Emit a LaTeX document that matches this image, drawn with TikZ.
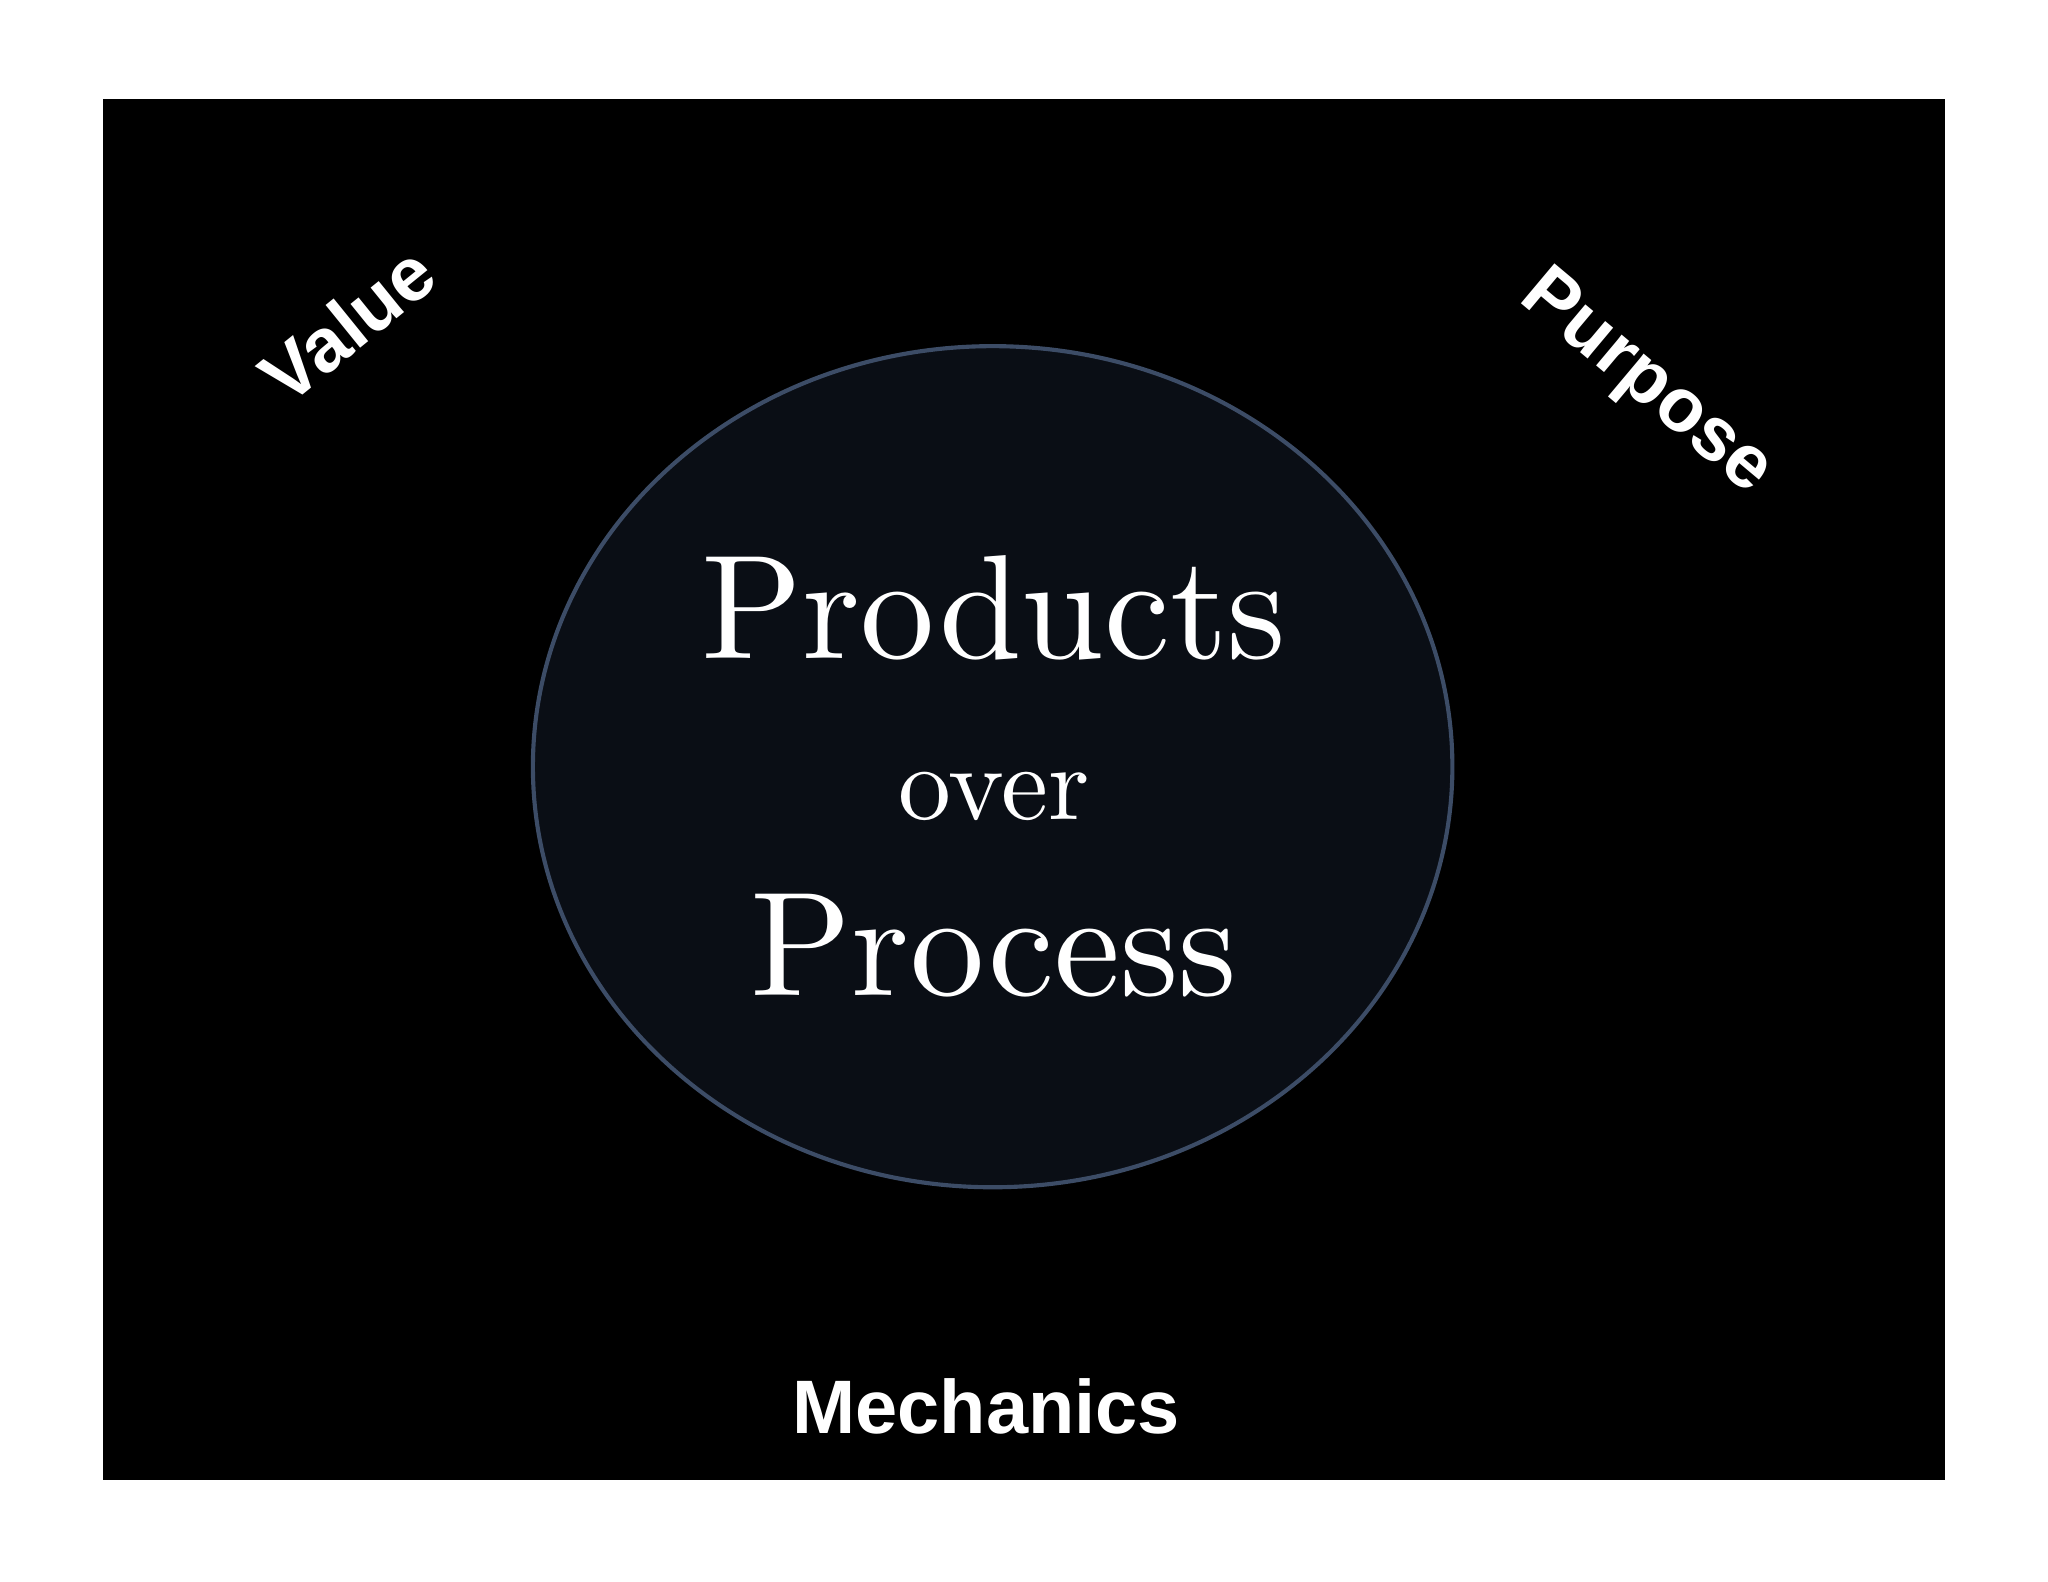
\documentclass[tikz,border=0pt]{standalone}
\usepackage{fontspec}
\newfontfamily\lab{Liberation Sans}
\newfontfamily\lmten{lmroman10-regular.otf}
\definecolor{disc}{HTML}{0A0E15}
\definecolor{rim}{HTML}{3C4C66}
\begin{document}
\begin{tikzpicture}[x=0.01cm,y=-0.01cm,
  labelstyle/.style={text=white,font=\lab\bfseries\fontsize{16.5pt}{18pt}\selectfont,inner sep=0pt},
  bigword/.style={text=white,font=\lmten\fontsize{32.3pt}{36pt}\selectfont,inner sep=0pt}]
\useasboundingbox (0,0) rectangle (1568,1211);
\fill[white] (0,0) rectangle (1568,1211);
\fill[black] (79,76) rectangle (1489,1133);
\draw[rim,line width=0.9pt,fill=disc] (760,587) ellipse [x radius=352, y radius=322];
\node[bigword] (products) at (761,465) {Products};
\node[text=white,font=\lmten\fontsize{23pt}{26pt}\selectfont,inner sep=0pt] (over) at (761,610) {over};
\node[bigword] (process) at (761,724) {Process};
\node[labelstyle,rotate=39] (value) at (266,248) {Value};
\node[labelstyle,rotate=-40] (purpose) at (1260,294) {Purpose};
\node[labelstyle] (mech) at (755,1077) {Mechanics};
\end{tikzpicture}
\end{document}
